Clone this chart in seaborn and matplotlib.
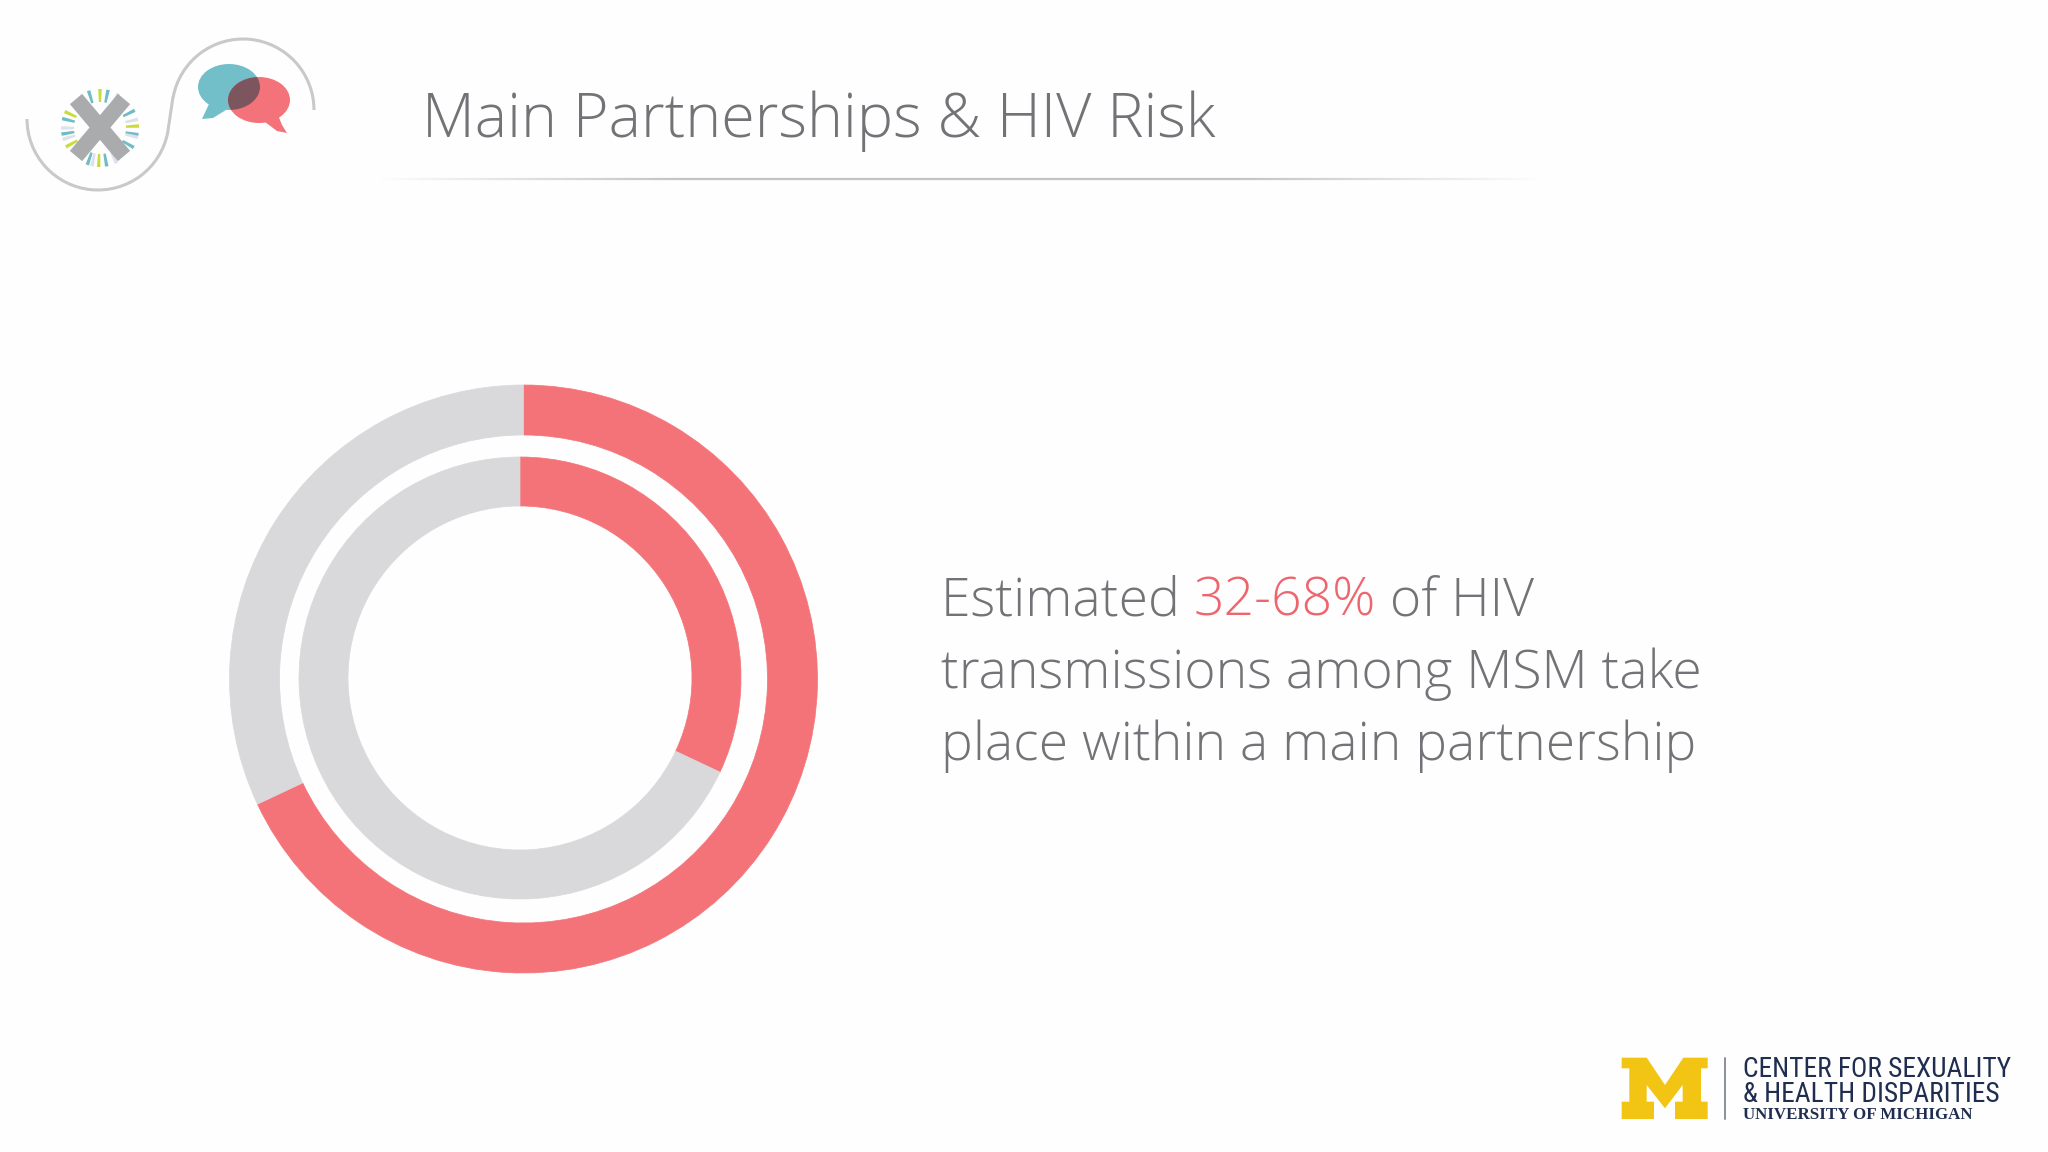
import numpy as np
import matplotlib
matplotlib.use('Agg')
import matplotlib.pyplot as plt
from matplotlib.patches import Arc, Ellipse, Polygon, Wedge
import seaborn as sns

# donut values (percent)
outer_values = [68, 32]
inner_values = [32, 68]
donut_colors = ['#f47379', '#d9d8db']

title_text = 'Main Partnerships & HIV Risk'
body_before = 'Estimated '
body_red = '32-68%'
body_after = ' of HIV'
body_line2 = 'transmissions among MSM take'
body_line3 = 'place within a main partnership'
logo_line1 = 'CENTER FOR SEXUALITY'
logo_line2 = '& HEALTH DISPARITIES'
logo_line3 = 'UNIVERSITY OF MICHIGAN'

sns.set_theme(style='white')
plt.rcParams['font.family'] = ['Open Sans', 'DejaVu Sans']

H = 1152
GREY_TEXT = '#737377'
NAVY = '#1f2d50'
BODY_SIZE = 38.5

fig = plt.figure(figsize=(20.48, 11.52), dpi=100, facecolor='#fefefe')
ax = fig.add_axes([0, 0, 1, 1])
ax.set_facecolor('#fefefe')

# 도넛
for vals, cen, rad, wid in [(outer_values, (523.5, H - 679), 294, 50), (inner_values, (520, H - 678), 221, 49)]:
    wedges, _ = ax.pie(vals, colors=donut_colors, center=cen, radius=rad, startangle=90,
                       counterclock=False, wedgeprops=dict(width=wid), frame=True)
    for w in wedges:
        w.set_edgecolor(w.get_facecolor())
        w.set_linewidth(0.5)
ax.set_xlim(0, 2048)
ax.set_ylim(0, H)
ax.set_aspect('equal')
ax.axis('off')

# title + rule
ax.text(422, H - 137, title_text, fontsize=44, color=GREY_TEXT, weight=300, va='baseline')
xs = np.linspace(370, 1537, 120)
fade = np.minimum(1, np.minimum(xs - 370, 1537 - xs) / 300)
for i in range(len(xs) - 1):
    ax.plot(xs[i:i + 2], [H - 179, H - 179], color='#c4c4c4', lw=1.6, alpha=fade[i],
            solid_capstyle='butt')

# body text
t1 = ax.text(941, H - 616, body_before, fontsize=BODY_SIZE, color=GREY_TEXT, weight=300, va='baseline')
t2 = ax.annotate(body_red, xy=(1, 0), xycoords=t1, fontsize=BODY_SIZE, color='#ee666d', weight=300, va='bottom')
t3 = ax.annotate(body_after, xy=(1, 0), xycoords=t2, fontsize=BODY_SIZE, color=GREY_TEXT, weight=300, va='bottom')
ax.text(941, H - 688, body_line2, fontsize=BODY_SIZE, color=GREY_TEXT, weight=300, va='baseline')
ax.text(941, H - 760, body_line3, fontsize=BODY_SIZE, color=GREY_TEXT, weight=300, va='baseline')

# S curve around the logos
ax.add_patch(Arc((98, H - 119), 142, 142, theta1=180, theta2=349, color='#c9c9c9', lw=2.2))
ax.add_patch(Arc((243, H - 110), 142, 142, theta1=0, theta2=169.5, color='#c9c9c9', lw=2.2))
ax.plot([167.6, 173], [H - 133, H - 97], color='#c9c9c9', lw=2.2)

# X logo rays
LIME, TEAL, LAV = '#c9dc3c', '#6dbcc6', '#dfe0ee'
ray_angles = [90, 78, 62, 107, 155, 166, 180, 197, 189, 209, 27, 13, 3, -10, -14, -30,
              251, 258, 268, 280, 295]
ray_colors = [LIME, TEAL, LAV, TEAL, LIME, TEAL, LAV, LAV, TEAL, LIME, TEAL, LAV, LIME, TEAL, LAV, TEAL,
              TEAL, LAV, LIME, TEAL, LAV]
for ang, col in zip(ray_angles, ray_colors):
    ax.add_patch(Wedge((100, H - 128), 39, ang - 2.6, ang + 2.6, width=13, color=col, lw=0))
ax.plot([76, 124], [H - 99, H - 156], color='#a9abad', lw=11.5, solid_capstyle='butt')
ax.plot([124, 76], [H - 99, H - 156], color='#a9abad', lw=11.5, solid_capstyle='butt')

# speech bubbles
teal_pts = [(209, H - 104), (202, H - 119), (213, H - 118), (226, H - 110)]
red_pts = [(265, H - 122), (277, H - 131), (287, H - 133), (282, H - 125), (278, H - 115)]
ax.add_patch(Polygon(teal_pts, color='#72bfca', lw=0))
ax.add_patch(Polygon(red_pts, color='#f4727a', lw=0))
teal_bubble = Ellipse((229, H - 87), 62, 46, color='#72bfca', lw=0)
red_bubble = Ellipse((259, H - 100), 62, 46, color='#f4727a', lw=0)
ax.add_patch(teal_bubble)
ax.add_patch(red_bubble)
overlap = Ellipse((259, H - 100), 62, 46, color='#7d555f', lw=0)
ax.add_patch(overlap)
overlap.set_clip_path(teal_bubble)

# Michigan logo
m_pts = [(65, 83), (140, 83), (195, 165), (250, 83), (323, 83), (323, 115), (303, 115), (303, 215),
         (323, 215), (323, 267), (225, 267), (225, 215), (248, 215), (248, 165), (195, 235),
         (140, 165), (140, 215), (162, 215), (162, 267), (65, 267), (65, 215), (88, 215),
         (88, 115), (65, 115)]
m_xy = [(1600 + x / 3, H - 1030 - y / 3) for x, y in m_pts]
ax.add_patch(Polygon(m_xy, color='#f2c413', lw=0))
ax.plot([1725, 1725], [H - 1058, H - 1119], color='#8a8f9b', lw=1.4)
ax.text(1743, H - 1077, logo_line1, fontsize=19.7, color=NAVY, va='baseline', family='Roboto Condensed')
ax.text(1743, H - 1102, logo_line2, fontsize=19.7, color=NAVY, va='baseline', family='Roboto Condensed')
ax.text(1743, H - 1119, logo_line3, fontsize=12.15, color=NAVY, va='baseline',
        weight='bold', family='Liberation Serif')

fig.savefig('out.png', dpi=100, facecolor=fig.get_facecolor())
